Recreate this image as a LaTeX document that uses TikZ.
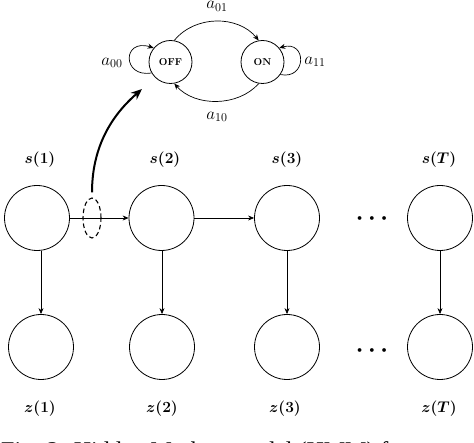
\RequirePackage{fix-cm}
\documentclass[tikz,border=0pt]{standalone}
\usepackage{fontspec}
\newfontfamily\capfont{Liberation Serif}
\usetikzlibrary{arrows.meta,shapes.geometric}
\begin{document}
\begin{tikzpicture}[x=1pt,y=-1pt,
  state/.style={circle,draw,line width=0.8pt,minimum size=65pt,inner sep=0pt},
  small/.style={circle,draw,line width=0.8pt,minimum size=43pt,inner sep=0pt,font=\fontsize{10}{12}\selectfont\bfseries},
  lab/.style={font=\fontsize{15.5}{18}\selectfont\boldmath,inner sep=0pt},
  alab/.style={font=\fontsize{17}{20}\selectfont,inner sep=0pt},
  arr/.style={line width=0.7pt,-{Stealth[length=6pt,width=5pt]}},
  bigarr/.style={line width=2pt,-{Stealth[length=11pt,width=9pt]}},
  dotsnode/.style={font=\fontsize{24}{28}\selectfont\boldmath,inner sep=0pt},
]
\useasboundingbox (0,0) rectangle (474,443);
\clip (0,0) rectangle (474,443);

% hidden states
\node[state] (s1) at (37,218) {};
\node[state] (s2) at (161.5,218) {};
\node[state] (s3) at (287,218) {};
\node[state] (sT) at (440,218) {};
% observations
\node[state] (z1) at (41,347) {};
\node[state] (z2) at (162,347) {};
\node[state] (z3) at (287,347) {};
\node[state] (zT) at (440,347) {};

% labels
\node[lab] (ls1) at (40,160) {$s(1)$};
\node[lab] (ls2) at (165,160) {$s(2)$};
\node[lab] (ls3) at (287,160) {$s(3)$};
\node[lab] (lsT) at (439,160) {$s(T)$};
\node[lab] (lz1) at (40,409) {$z(1)$};
\node[lab] (lz2) at (162,409) {$z(2)$};
\node[lab] (lz3) at (285,409) {$z(3)$};
\node[lab] (lzT) at (439,409) {$z(T)$};

% dots
\node[dotsnode] (ds) at (372,219) {$\cdots$};
\node[dotsnode] (dz) at (372,351) {$\cdots$};

% chain arrows
\draw[arr] (s1) -- (s2);
\draw[arr] (s2) -- (s3);
\draw[arr] (s1.south -| z1.north) -- (z1.north);
\draw[arr] (s2.south -| z2.north) -- (z2.north);
\draw[arr] (s3) -- (z3);
\draw[arr] (sT) -- (zT);

% dashed ellipse and thick arrow
\node[draw,ellipse,dashed,line width=1.1pt,dash pattern=on 4.5pt off 3pt,minimum width=18pt,minimum height=40pt,inner sep=0pt] (el) at (92,218) {};
\coordinate (tip) at (142,89);
\draw[bigarr] ([yshift=5pt]el.north) .. controls (92,140) and (118,110) .. (tip);

% two-state chain
\node[small] (off) at (170.5,62) {OFF};
\node[small] (on) at (262.5,62) {ON};
\draw[arr] (off.80) .. controls (195,15) and (238,15) .. (on.100);
\draw[arr] (on.260) .. controls (238,107) and (195,107) .. (off.280);
\draw[arr] (off.210) .. controls (122,78) and (122,38) .. (off.140);
\draw[arr] (on.325) .. controls (307,80) and (307,40) .. (on.40);
\node[alab,anchor=base] (a01) at (217,8.5) {$a_{01}$};
\node[alab] (a10) at (217,117) {$a_{10}$};
\node[alab] (a00) at (112,63) {$a_{00}$};
\node[alab] (a11) at (315,62) {$a_{11}$};

% caption (cut by the frame)
\node[anchor=base west,inner sep=0pt,font=\capfont\fontsize{24}{28}\selectfont] (cap) at (1,458) {Fig. 2: Hidden Markov model (HMM) for};
\end{tikzpicture}
\end{document}
